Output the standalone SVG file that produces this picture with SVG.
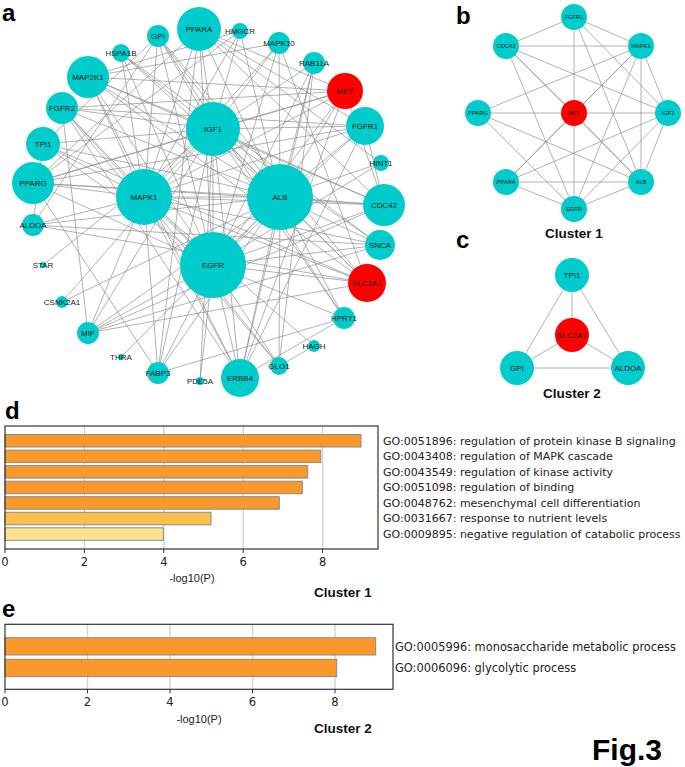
<svg xmlns="http://www.w3.org/2000/svg" width="685" height="767" viewBox="0 0 685 767">
<style>
.n{fill:#00CCCC}
.r{fill:#FF0000}
.e line{stroke:#8c8c8c;stroke-width:0.9;stroke-opacity:0.75}
.lb{font-family:"Liberation Sans",Arial,sans-serif;font-size:8px;fill:#1a1a1a;text-anchor:middle;dominant-baseline:central}
.lbs{font-family:"Liberation Sans",Arial,sans-serif;font-size:5.8px;fill:#1a1a1a;text-anchor:middle;dominant-baseline:central}
.pl{font-family:"Liberation Sans",Arial,sans-serif;font-weight:bold;font-size:24px;fill:#000}
.cl{font-family:"Liberation Sans",Arial,sans-serif;font-weight:bold;font-size:13.5px;fill:#111;text-anchor:middle}
.go{font-family:"DejaVu Sans",sans-serif;font-size:11px;fill:#222}
.goe{font-family:"DejaVu Sans",sans-serif;font-size:11.4px;fill:#222}
.tk{font-family:"DejaVu Sans",sans-serif;font-size:11.5px;fill:#222;text-anchor:middle}
.ax{font-family:"Liberation Sans",Arial,sans-serif;font-size:11px;fill:#222;text-anchor:middle}
.grid{stroke:#d4d4d4;stroke-width:1.5}
.box{fill:none;stroke:#333;stroke-width:1.2}
.b1{fill:#F9992B;stroke:#8a8a8a;stroke-width:1}
.b2{fill:#FDC04E;stroke:#8a8a8a;stroke-width:1}
.b3{fill:#FEE38F;stroke:#8a8a8a;stroke-width:1}
.tick{stroke:#333;stroke-width:1}
</style>

<!-- Panel letters -->
<text class="pl" x="2" y="21" font-size="20">a</text>
<text class="pl" x="456" y="24">b</text>
<text class="pl" x="456" y="248">c</text>
<text class="pl" x="5" y="419">d</text>
<text class="pl" x="2" y="617">e</text>
<text x="592" y="760" font-family="Liberation Sans, Arial, sans-serif" font-weight="bold" font-size="30" fill="#000">Fig.3</text>

<!-- Panel a connectors -->
<g id="a-edges" class="e">
<line x1="280" y1="197" x2="199" y2="29"/>
<line x1="280" y1="197" x2="158" y2="36"/>
<line x1="280" y1="197" x2="121" y2="53"/>
<line x1="280" y1="197" x2="240" y2="31"/>
<line x1="280" y1="197" x2="279" y2="43"/>
<line x1="280" y1="197" x2="314" y2="63"/>
<line x1="280" y1="197" x2="345" y2="91"/>
<line x1="280" y1="197" x2="365" y2="126"/>
<line x1="280" y1="197" x2="381" y2="163"/>
<line x1="280" y1="197" x2="384" y2="205"/>
<line x1="280" y1="197" x2="380" y2="245"/>
<line x1="280" y1="197" x2="367" y2="283"/>
<line x1="280" y1="197" x2="344" y2="318"/>
<line x1="280" y1="197" x2="279" y2="366"/>
<line x1="280" y1="197" x2="240" y2="378"/>
<line x1="280" y1="197" x2="158" y2="373"/>
<line x1="280" y1="197" x2="88" y2="333"/>
<line x1="280" y1="197" x2="62" y2="302"/>
<line x1="280" y1="197" x2="33" y2="225"/>
<line x1="280" y1="197" x2="33" y2="183"/>
<line x1="280" y1="197" x2="43" y2="144"/>
<line x1="280" y1="197" x2="62" y2="108"/>
<line x1="280" y1="197" x2="88" y2="77"/>
<line x1="280" y1="197" x2="121" y2="357"/>
<line x1="280" y1="197" x2="213" y2="129"/>
<line x1="280" y1="197" x2="144" y2="197"/>
<line x1="280" y1="197" x2="213" y2="265"/>
<line x1="213" y1="265" x2="199" y2="29"/>
<line x1="213" y1="265" x2="158" y2="36"/>
<line x1="213" y1="265" x2="121" y2="53"/>
<line x1="213" y1="265" x2="88" y2="77"/>
<line x1="213" y1="265" x2="62" y2="108"/>
<line x1="213" y1="265" x2="43" y2="144"/>
<line x1="213" y1="265" x2="33" y2="183"/>
<line x1="213" y1="265" x2="88" y2="333"/>
<line x1="213" y1="265" x2="158" y2="373"/>
<line x1="213" y1="265" x2="200" y2="381"/>
<line x1="213" y1="265" x2="240" y2="378"/>
<line x1="213" y1="265" x2="279" y2="366"/>
<line x1="213" y1="265" x2="344" y2="318"/>
<line x1="213" y1="265" x2="367" y2="283"/>
<line x1="213" y1="265" x2="380" y2="245"/>
<line x1="213" y1="265" x2="384" y2="205"/>
<line x1="213" y1="265" x2="381" y2="163"/>
<line x1="213" y1="265" x2="365" y2="126"/>
<line x1="213" y1="265" x2="345" y2="91"/>
<line x1="213" y1="265" x2="314" y2="63"/>
<line x1="213" y1="265" x2="279" y2="43"/>
<line x1="213" y1="265" x2="213" y2="129"/>
<line x1="213" y1="265" x2="144" y2="197"/>
<line x1="213" y1="129" x2="199" y2="29"/>
<line x1="213" y1="129" x2="158" y2="36"/>
<line x1="213" y1="129" x2="121" y2="53"/>
<line x1="213" y1="129" x2="88" y2="77"/>
<line x1="213" y1="129" x2="62" y2="108"/>
<line x1="213" y1="129" x2="43" y2="144"/>
<line x1="213" y1="129" x2="33" y2="183"/>
<line x1="213" y1="129" x2="43" y2="265"/>
<line x1="213" y1="129" x2="62" y2="302"/>
<line x1="213" y1="129" x2="88" y2="333"/>
<line x1="213" y1="129" x2="158" y2="373"/>
<line x1="213" y1="129" x2="200" y2="381"/>
<line x1="213" y1="129" x2="240" y2="378"/>
<line x1="213" y1="129" x2="344" y2="318"/>
<line x1="213" y1="129" x2="367" y2="283"/>
<line x1="213" y1="129" x2="380" y2="245"/>
<line x1="213" y1="129" x2="384" y2="205"/>
<line x1="213" y1="129" x2="365" y2="126"/>
<line x1="213" y1="129" x2="345" y2="91"/>
<line x1="213" y1="129" x2="314" y2="63"/>
<line x1="213" y1="129" x2="279" y2="43"/>
<line x1="213" y1="129" x2="240" y2="31"/>
<line x1="213" y1="129" x2="144" y2="197"/>
<line x1="144" y1="197" x2="199" y2="29"/>
<line x1="144" y1="197" x2="158" y2="36"/>
<line x1="144" y1="197" x2="121" y2="53"/>
<line x1="144" y1="197" x2="88" y2="77"/>
<line x1="144" y1="197" x2="62" y2="108"/>
<line x1="144" y1="197" x2="43" y2="144"/>
<line x1="144" y1="197" x2="33" y2="183"/>
<line x1="144" y1="197" x2="33" y2="225"/>
<line x1="144" y1="197" x2="88" y2="333"/>
<line x1="144" y1="197" x2="158" y2="373"/>
<line x1="144" y1="197" x2="240" y2="378"/>
<line x1="144" y1="197" x2="279" y2="366"/>
<line x1="144" y1="197" x2="314" y2="346"/>
<line x1="144" y1="197" x2="367" y2="283"/>
<line x1="144" y1="197" x2="380" y2="245"/>
<line x1="144" y1="197" x2="384" y2="205"/>
<line x1="144" y1="197" x2="365" y2="126"/>
<line x1="144" y1="197" x2="345" y2="91"/>
<line x1="144" y1="197" x2="279" y2="43"/>
<line x1="144" y1="197" x2="240" y2="31"/>
<line x1="158" y1="36" x2="43" y2="144"/>
<line x1="158" y1="36" x2="33" y2="225"/>
<line x1="43" y1="144" x2="33" y2="225"/>
<line x1="158" y1="36" x2="367" y2="283"/>
<line x1="43" y1="144" x2="367" y2="283"/>
<line x1="33" y1="225" x2="367" y2="283"/>
<line x1="345" y1="91" x2="384" y2="205"/>
<line x1="345" y1="91" x2="33" y2="183"/>
<line x1="345" y1="91" x2="199" y2="29"/>
<line x1="345" y1="91" x2="88" y2="77"/>
<line x1="345" y1="91" x2="62" y2="108"/>
<line x1="345" y1="91" x2="240" y2="378"/>
<line x1="365" y1="126" x2="384" y2="205"/>
<line x1="365" y1="126" x2="33" y2="183"/>
<line x1="365" y1="126" x2="62" y2="108"/>
<line x1="365" y1="126" x2="199" y2="29"/>
<line x1="365" y1="126" x2="240" y2="378"/>
<line x1="199" y1="29" x2="33" y2="183"/>
<line x1="199" y1="29" x2="158" y2="373"/>
<line x1="33" y1="183" x2="158" y2="373"/>
<line x1="384" y1="205" x2="199" y2="29"/>
<line x1="384" y1="205" x2="33" y2="183"/>
<line x1="384" y1="205" x2="88" y2="77"/>
<line x1="384" y1="205" x2="88" y2="333"/>
<line x1="121" y1="53" x2="380" y2="245"/>
<line x1="88" y1="77" x2="240" y2="378"/>
<line x1="88" y1="77" x2="279" y2="43"/>
<line x1="88" y1="77" x2="367" y2="283"/>
<line x1="62" y1="108" x2="240" y2="378"/>
<line x1="62" y1="108" x2="88" y2="333"/>
<line x1="88" y1="333" x2="380" y2="245"/>
<line x1="88" y1="333" x2="367" y2="283"/>
<line x1="344" y1="318" x2="158" y2="373"/>
<line x1="344" y1="318" x2="240" y2="378"/>
<line x1="314" y1="346" x2="279" y2="366"/>
<line x1="279" y1="366" x2="62" y2="108"/>
<line x1="240" y1="31" x2="33" y2="183"/>
<line x1="240" y1="31" x2="88" y2="77"/>
<line x1="314" y1="63" x2="240" y2="378"/>
<line x1="314" y1="63" x2="279" y2="366"/>
<line x1="279" y1="43" x2="367" y2="283"/>
<line x1="158" y1="36" x2="344" y2="318"/>
<line x1="33" y1="225" x2="380" y2="245"/>
<line x1="199" y1="29" x2="381" y2="163"/>
</g>

<!-- Panel a nodes -->
<g id="a-PPARA"><circle class="n" cx="199" cy="29" r="22"/><text class="lb" x="199" y="29">PPARA</text></g>
<g id="a-GPI"><circle class="n" cx="158" cy="36" r="11"/><text class="lb" x="158" y="36">GPI</text></g>
<g id="a-HSPA1B"><circle class="n" cx="121" cy="53" r="9"/><text class="lb" x="121" y="53">HSPA1B</text></g>
<g id="a-HMGCR"><circle class="n" cx="240" cy="31" r="8"/><text class="lb" x="240" y="31">HMGCR</text></g>
<g id="a-MAPK10"><circle class="n" cx="279" cy="43" r="11"/><text class="lb" x="279" y="43">MAPK10</text></g>
<g id="a-RAB11A"><circle class="n" cx="314" cy="63" r="11"/><text class="lb" x="314" y="63">RAB11A</text></g>
<g id="a-MET"><circle class="r" cx="345" cy="91" r="18"/><text class="lb" x="345" y="91">MET</text></g>
<g id="a-FGFR1"><circle class="n" cx="365" cy="126" r="19"/><text class="lb" x="365" y="126">FGFR1</text></g>
<g id="a-HINT1"><circle class="n" cx="381" cy="163" r="8"/><text class="lb" x="381" y="163">HINT1</text></g>
<g id="a-CDC42"><circle class="n" cx="384" cy="205" r="21"/><text class="lb" x="384" y="205">CDC42</text></g>
<g id="a-SNCA"><circle class="n" cx="380" cy="245" r="15"/><text class="lb" x="380" y="245">SNCA</text></g>
<g id="a-SLC2A1"><circle class="r" cx="367" cy="283" r="19"/><text class="lb" x="367" y="283">SLC2A1</text></g>
<g id="a-HPRT1"><circle class="n" cx="344" cy="318" r="11"/><text class="lb" x="344" y="318">HPRT1</text></g>
<g id="a-HAGH"><circle class="n" cx="314" cy="346" r="6"/><text class="lb" x="314" y="346">HAGH</text></g>
<g id="a-GLO1"><circle class="n" cx="279" cy="366" r="9"/><text class="lb" x="279" y="366">GLO1</text></g>
<g id="a-ERBB4"><circle class="n" cx="240" cy="378" r="19"/><text class="lb" x="240" y="378">ERBB4</text></g>
<g id="a-PDE5A"><circle class="n" cx="200" cy="381" r="4"/><text class="lb" x="200" y="381">PDE5A</text></g>
<g id="a-FABP3"><circle class="n" cx="158" cy="373" r="11"/><text class="lb" x="158" y="373">FABP3</text></g>
<g id="a-THRA"><circle class="n" cx="121" cy="357" r="3"/><text class="lb" x="121" y="357">THRA</text></g>
<g id="a-MIF"><circle class="n" cx="88" cy="333" r="11"/><text class="lb" x="88" y="333">MIF</text></g>
<g id="a-CSNK2A1"><circle class="n" cx="62" cy="302" r="6"/><text class="lb" x="62" y="302">CSNK2A1</text></g>
<g id="a-STAR"><circle class="n" cx="43" cy="265" r="3"/><text class="lb" x="43" y="265">STAR</text></g>
<g id="a-ALDOA"><circle class="n" cx="33" cy="225" r="11"/><text class="lb" x="33" y="225">ALDOA</text></g>
<g id="a-PPARG"><circle class="n" cx="33" cy="183" r="21"/><text class="lb" x="33" y="183">PPARG</text></g>
<g id="a-TPI1"><circle class="n" cx="43" cy="144" r="17"/><text class="lb" x="43" y="144">TPI1</text></g>
<g id="a-FGFR2"><circle class="n" cx="62" cy="108" r="16"/><text class="lb" x="62" y="108">FGFR2</text></g>
<g id="a-MAP2K1"><circle class="n" cx="88" cy="77" r="21"/><text class="lb" x="88" y="77">MAP2K1</text></g>
<g id="a-IGF1"><circle class="n" cx="213" cy="129" r="27"/><text class="lb" x="213" y="129">IGF1</text></g>
<g id="a-MAPK1"><circle class="n" cx="144" cy="197" r="28"/><text class="lb" x="144" y="197">MAPK1</text></g>
<g id="a-ALB"><circle class="n" cx="280" cy="197" r="33"/><text class="lb" x="280" y="197">ALB</text></g>
<g id="a-EGFR"><circle class="n" cx="213" cy="265" r="33"/><text class="lb" x="213" y="265">EGFR</text></g>

<!-- Panel b connectors -->
<g id="b-edges" class="e">
<line x1="574" y1="17" x2="506" y2="46"/>
<line x1="574" y1="17" x2="641" y2="46"/>
<line x1="574" y1="17" x2="574" y2="113"/>
<line x1="574" y1="17" x2="668" y2="113"/>
<line x1="574" y1="17" x2="641" y2="182"/>
<line x1="506" y1="46" x2="641" y2="46"/>
<line x1="506" y1="46" x2="574" y2="113"/>
<line x1="506" y1="46" x2="668" y2="113"/>
<line x1="506" y1="46" x2="574" y2="209"/>
<line x1="506" y1="46" x2="641" y2="182"/>
<line x1="641" y1="46" x2="478" y2="113"/>
<line x1="641" y1="46" x2="574" y2="113"/>
<line x1="641" y1="46" x2="668" y2="113"/>
<line x1="641" y1="46" x2="641" y2="182"/>
<line x1="641" y1="46" x2="574" y2="209"/>
<line x1="641" y1="46" x2="506" y2="182"/>
<line x1="478" y1="113" x2="574" y2="113"/>
<line x1="478" y1="113" x2="641" y2="182"/>
<line x1="478" y1="113" x2="574" y2="209"/>
<line x1="668" y1="113" x2="574" y2="113"/>
<line x1="668" y1="113" x2="506" y2="182"/>
<line x1="668" y1="113" x2="574" y2="209"/>
<line x1="668" y1="113" x2="641" y2="182"/>
<line x1="506" y1="182" x2="641" y2="182"/>
<line x1="506" y1="182" x2="574" y2="209"/>
<line x1="506" y1="182" x2="574" y2="113"/>
<line x1="641" y1="182" x2="574" y2="209"/>
<line x1="641" y1="182" x2="574" y2="113"/>
<line x1="574" y1="209" x2="574" y2="113"/>
</g>
<g id="b-FGFR1"><circle class="n" cx="574" cy="17" r="13"/><text class="lbs" x="574" y="17">FGFR1</text></g>
<g id="b-CDC42"><circle class="n" cx="506" cy="46" r="13"/><text class="lbs" x="506" y="46">CDC42</text></g>
<g id="b-MAPK1"><circle class="n" cx="641" cy="46" r="13"/><text class="lbs" x="641" y="46">MAPK1</text></g>
<g id="b-PPARG"><circle class="n" cx="478" cy="113" r="13"/><text class="lbs" x="478" y="113">PPARG</text></g>
<g id="b-MET"><circle class="r" cx="574" cy="113" r="13"/><text class="lbs" x="574" y="113">MET</text></g>
<g id="b-IGF1"><circle class="n" cx="668" cy="113" r="13"/><text class="lbs" x="668" y="113">IGF1</text></g>
<g id="b-PPARA"><circle class="n" cx="506" cy="182" r="13"/><text class="lbs" x="506" y="182">PPARA</text></g>
<g id="b-ALB"><circle class="n" cx="641" cy="182" r="13"/><text class="lbs" x="641" y="182">ALB</text></g>
<g id="b-EGFR"><circle class="n" cx="574" cy="209" r="13"/><text class="lbs" x="574" y="209">EGFR</text></g>
<text class="cl" x="574" y="238">Cluster 1</text>

<!-- Panel c -->
<g id="c-edges" class="e">
<line x1="572" y1="275" x2="572" y2="335"/>
<line x1="572" y1="275" x2="517" y2="368"/>
<line x1="572" y1="275" x2="628" y2="368"/>
<line x1="572" y1="335" x2="517" y2="368"/>
<line x1="572" y1="335" x2="628" y2="368"/>
<line x1="517" y1="368" x2="628" y2="368"/>
</g>
<g id="c-TPI1"><circle class="n" cx="572" cy="275" r="17"/><text class="lb" x="572" y="275">TPI1</text></g>
<g id="c-SLC2A1"><circle class="r" cx="572" cy="335" r="17"/><text class="lb" x="572" y="335">SLC2A1</text></g>
<g id="c-GPI"><circle class="n" cx="517" cy="368" r="17"/><text class="lb" x="517" y="368">GPI</text></g>
<g id="c-ALDOA"><circle class="n" cx="628" cy="368" r="17"/><text class="lb" x="628" y="368">ALDOA</text></g>
<text class="cl" x="572" y="398">Cluster 2</text>

<!-- Panel d -->
<g id="d-chart">
<line class="grid" x1="84.4" y1="426" x2="84.4" y2="549"/>
<line class="grid" x1="163.8" y1="426" x2="163.8" y2="549"/>
<line class="grid" x1="243.2" y1="426" x2="243.2" y2="549"/>
<line class="grid" x1="322.6" y1="426" x2="322.6" y2="549"/>
<rect class="b1" x="5" y="434.5" width="356" height="12.5"/>
<rect class="b1" x="5" y="450.1" width="315.7" height="12.5"/>
<rect class="b1" x="5" y="465.6" width="302.7" height="12.5"/>
<rect class="b1" x="5" y="481.2" width="297.3" height="12.5"/>
<rect class="b1" x="5" y="496.7" width="274.3" height="12.5"/>
<rect class="b2" x="5" y="512.3" width="206" height="12.5"/>
<rect class="b3" x="5" y="527.8" width="158.3" height="12.5"/>
<rect class="box" x="5" y="426" width="373" height="123"/>
<line class="tick" x1="5" y1="549" x2="5" y2="553"/>
<line class="tick" x1="84.4" y1="549" x2="84.4" y2="553"/>
<line class="tick" x1="163.8" y1="549" x2="163.8" y2="553"/>
<line class="tick" x1="243.2" y1="549" x2="243.2" y2="553"/>
<line class="tick" x1="322.6" y1="549" x2="322.6" y2="553"/>
<text class="tk" x="5" y="566">0</text>
<text class="tk" x="84.4" y="566">2</text>
<text class="tk" x="163.8" y="566">4</text>
<text class="tk" x="243.2" y="566">6</text>
<text class="tk" x="322.6" y="566">8</text>
<text class="ax" x="192" y="582">-log10(P)</text>
<text class="cl" x="343" y="597">Cluster 1</text>
<text class="go" x="383" y="444.7">GO:0051896: regulation of protein kinase B signaling</text>
<text class="go" x="383" y="460.2">GO:0043408: regulation of MAPK cascade</text>
<text class="go" x="383" y="475.7">GO:0043549: regulation of kinase activity</text>
<text class="go" x="383" y="491.2">GO:0051098: regulation of binding</text>
<text class="go" x="383" y="506.7">GO:0048762: mesenchymal cell differentiation</text>
<text class="go" x="383" y="522.2">GO:0031667: response to nutrient levels</text>
<text class="go" x="383" y="537.7">GO:0009895: negative regulation of catabolic process</text>
</g>

<!-- Panel e -->
<g id="e-chart">
<line class="grid" x1="87.5" y1="624.3" x2="87.5" y2="689.3"/>
<line class="grid" x1="170" y1="624.3" x2="170" y2="689.3"/>
<line class="grid" x1="252.5" y1="624.3" x2="252.5" y2="689.3"/>
<line class="grid" x1="335" y1="624.3" x2="335" y2="689.3"/>
<rect class="b1" x="5" y="637.7" width="370.7" height="17.3"/>
<rect class="b1" x="5" y="659.3" width="331.7" height="17.3"/>
<rect class="box" x="5" y="624.3" width="388" height="65"/>
<line class="tick" x1="5" y1="689.3" x2="5" y2="693.3"/>
<line class="tick" x1="87.5" y1="689.3" x2="87.5" y2="693.3"/>
<line class="tick" x1="170" y1="689.3" x2="170" y2="693.3"/>
<line class="tick" x1="252.5" y1="689.3" x2="252.5" y2="693.3"/>
<line class="tick" x1="335" y1="689.3" x2="335" y2="693.3"/>
<text class="tk" x="5" y="706">0</text>
<text class="tk" x="87.5" y="706">2</text>
<text class="tk" x="170" y="706">4</text>
<text class="tk" x="252.5" y="706">6</text>
<text class="tk" x="335" y="706">8</text>
<text class="ax" x="199" y="723">-log10(P)</text>
<text class="cl" x="343" y="733">Cluster 2</text>
<text class="goe" x="395" y="650.5">GO:0005996: monosaccharide metabolic process</text>
<text class="goe" x="395" y="672">GO:0006096: glycolytic process</text>
</g>
</svg>
